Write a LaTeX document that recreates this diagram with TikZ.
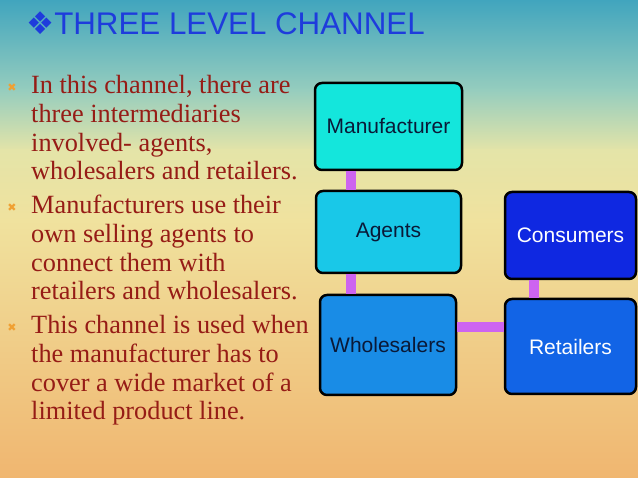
\documentclass[tikz,border=0pt]{standalone}
\usepackage{fontspec}
\setmainfont{Liberation Serif}
\setsansfont{Liberation Sans}
\newfontfamily\symfont{DejaVu Sans}
\usetikzlibrary{positioning, calc}

\definecolor{bgteal}{RGB}{65, 165, 190}
\definecolor{bgmint}{RGB}{150, 205, 190}
\definecolor{bgcream}{RGB}{228, 228, 168}
\definecolor{bgsand}{RGB}{240, 226, 158}
\definecolor{bgorange}{RGB}{240, 182, 112}
\definecolor{titleblue}{RGB}{30, 60, 220}
\definecolor{textred}{RGB}{150, 28, 22}
\definecolor{bulletorange}{RGB}{240, 160, 50}
\definecolor{linkviolet}{RGB}{205, 100, 240}
\definecolor{mfgcyan}{RGB}{20, 230, 220}
\definecolor{agtcyan}{RGB}{25, 200, 232}
\definecolor{wslblue}{RGB}{25, 140, 230}
\definecolor{rtlblue}{RGB}{18, 100, 230}
\definecolor{csmblue}{RGB}{15, 40, 225}
\definecolor{darklabel}{RGB}{10, 25, 55}

\tikzset{
  chanbox/.style={draw=black, line width=2.5pt, rounded corners=7pt, align=center,
    font=\sffamily\fontsize{21}{24}\selectfont},
  link/.style={draw=linkviolet, line width=10pt},
  bodytext/.style={font=\fontsize{26.3}{28.7}\selectfont, text=textred, align=left, inner sep=0pt},
  bullet/.style={font=\symfont\fontsize{11}{11}\selectfont, text=bulletorange, inner sep=0pt}
}

\begin{document}
\begin{tikzpicture}[x=1pt, y=-1pt]
  % Background
  \useasboundingbox (0,0) rectangle (638,478);
  \shade[top color=bgteal, bottom color=bgmint] (0,0) rectangle (638,91);
  \shade[top color=bgmint, bottom color=bgcream] (0,90) rectangle (638,151);
  \shade[top color=bgcream, bottom color=bgsand] (0,150) rectangle (638,221);
  \shade[top color=bgsand, bottom color=bgorange] (0,220) rectangle (638,478);

  % Title
  \node[anchor=base west, inner sep=0pt, text=titleblue, font=\sffamily\fontsize{31.3}{31.3}\selectfont] (title) at (26,35) {{\symfont ❖}THREE LEVEL CHANNEL};

  % Bullet points (base = last line)
  \node[bullet] (b1) at (12,88) {✖};
  \node[bodytext, anchor=base west] (p1) at (31,180) {In this channel, there are\\three intermediaries\\involved- agents,\\wholesalers and retailers.};
  \node[bullet] (b2) at (12,208) {✖};
  \node[bodytext, anchor=base west] (p2) at (31,300) {Manufacturers use their\\own selling agents to\\connect them with\\retailers and wholesalers.};
  \node[bullet] (b3) at (12,328) {✖};
  \node[bodytext, anchor=base west] (p3) at (31,420) {This channel is used when\\the manufacturer has to\\cover a wide market of a\\limited product line.};

  % Channel boxes
  \node[chanbox, fill=mfgcyan, text=darklabel, minimum width=147pt, minimum height=87pt] (mfg) at (388.5,126.5) {Manufacturer};
  \node[chanbox, fill=agtcyan, text=darklabel, minimum width=145pt, minimum height=82pt] (agt) at (388.5,232) {Agents};
  \node[chanbox, fill=wslblue, text=darklabel, minimum width=136pt, minimum height=100pt] (wsl) at (388,345) {Wholesalers};
  \node[chanbox, fill=csmblue, text=white, minimum width=131pt, minimum height=87pt] (csm) at (570.5,235.5) {Consumers};
  \node[chanbox, fill=rtlblue, text=white, minimum width=131pt, minimum height=95pt] (rtl) at (570.5,346.5) {Retailers};

  % Links
  \draw[link] ([xshift=37pt]mfg.south west) -- ([xshift=37pt]mfg.south west |- agt.north);
  \draw[link] ([xshift=36pt]agt.south west) -- ([xshift=36pt]agt.south west |- wsl.north);
  \draw[link] ([yshift=17.5pt]wsl.east) -- ([yshift=17.5pt]wsl.east -| rtl.west);
  \draw[link] ([xshift=-37pt]csm.south) -- ([xshift=-37pt]csm.south |- rtl.north);
\end{tikzpicture}
\end{document}
